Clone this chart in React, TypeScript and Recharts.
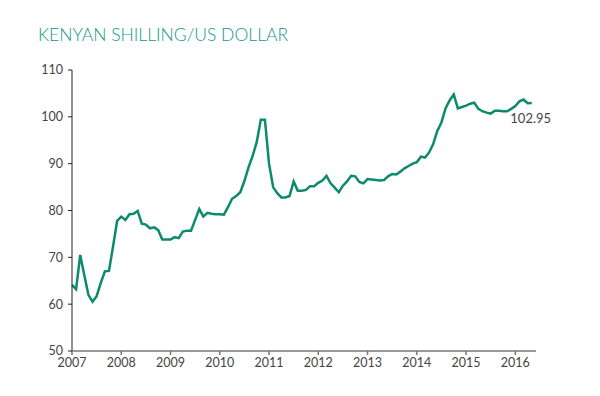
import { LineChart, Line, XAxis, YAxis } from "recharts"

// monthly KES per USD, Jan 2007 - May 2016
const kesPerUsd = [
    64.1, 63.2, 70.5, 66.2, 62.0, 60.5, 61.7, 64.5, 67.0, 67.1, 72.3, 77.8,
    78.7, 78.0, 79.2, 79.3, 79.9, 77.2, 77.0, 76.2, 76.4, 75.8, 73.8, 73.8,
    73.8, 74.3, 74.1, 75.5, 75.7, 75.7, 78.0, 80.3, 78.7, 79.5, 79.3, 79.2,
    79.2, 79.1, 80.7, 82.5, 83.1, 83.9, 86.3, 89.2, 91.6, 94.6, 99.4, 99.4,
    90.0, 85.0, 83.7, 82.8, 82.8, 83.1, 86.2, 84.2, 84.2, 84.4, 85.2, 85.2,
    85.9, 86.4, 87.4, 85.8, 84.9, 83.9, 85.3, 86.2, 87.4, 87.3, 86.1, 85.8,
    86.7, 86.6, 86.5, 86.4, 86.5, 87.3, 87.8, 87.7, 88.3, 89.0, 89.5, 90.0,
    90.3, 91.5, 91.3, 92.4, 94.2, 97.0, 98.8, 101.8, 103.5, 104.8, 101.8, 102.1,
    102.4, 102.8, 103.0, 101.7, 101.2, 100.9, 100.7, 101.3, 101.3, 101.2, 101.2, 101.7,
    102.3, 103.3, 103.7, 102.9, 102.95,
]
const startYear = 2007
const yearTicks = [2007, 2008, 2009, 2010, 2011, 2012, 2013, 2014, 2015, 2016]
const rateTicks = [50, 60, 70, 80, 90, 100, 110]
const lastValueLabel = "102.95"
const title = "KENYAN SHILLING/US DOLLAR"

const chartData = kesPerUsd.map((rate, i) => ({ t: startYear + i / 12, rate }))

const tickStyle = { fontFamily: "Lato, sans-serif", fontSize: 12.5, fill: "#444" }

function LastLabel(props: any) {
    const { x, y, index } = props
    if (index !== kesPerUsd.length - 1) return null
    return (
        <text x={x - 1} y={y + 20} textAnchor="middle" style={{ ...tickStyle, fontSize: 13 }} fill="#3a3030">
            {lastValueLabel}
        </text>
    )
}

export default function App() {
    return (
        <div style={{ position: "absolute", left: 0, top: 0, width: 600, height: 396, background: "#fff" }}>
            <div
                style={{
                    position: "absolute",
                    left: 38,
                    top: 24,
                    fontFamily: "Lato, sans-serif",
                    fontWeight: 300,
                    fontSize: 17.5,
                    color: "#12998a",
                    whiteSpace: "nowrap",
                }}
            >
                {title}
            </div>
            <LineChart
                width={600}
                height={396}
                data={chartData}
                margin={{ top: 70, right: 64, bottom: 15, left: 12 }}
            >
                <XAxis
                    dataKey="t"
                    type="number"
                    domain={[2007, 2016.42]}
                    ticks={yearTicks}
                    allowDecimals={false}
                    height={30}
                    tickSize={4}
                    tickMargin={3}
                    tick={tickStyle}
                    stroke="#777"
                    strokeWidth={1.5}
                />
                <YAxis
                    type="number"
                    domain={[50, 110]}
                    ticks={rateTicks}
                    width={60}
                    tickSize={4}
                    tickMargin={5}
                    tick={tickStyle}
                    stroke="#222"
                    interval={0}
                />
                <Line
                    type="linear"
                    dataKey="rate"
                    stroke="#0b8a6c"
                    strokeWidth={2.5}
                    dot={false}
                    isAnimationActive={false}
                    label={<LastLabel />}
                />
            </LineChart>
        </div>
    )
}
